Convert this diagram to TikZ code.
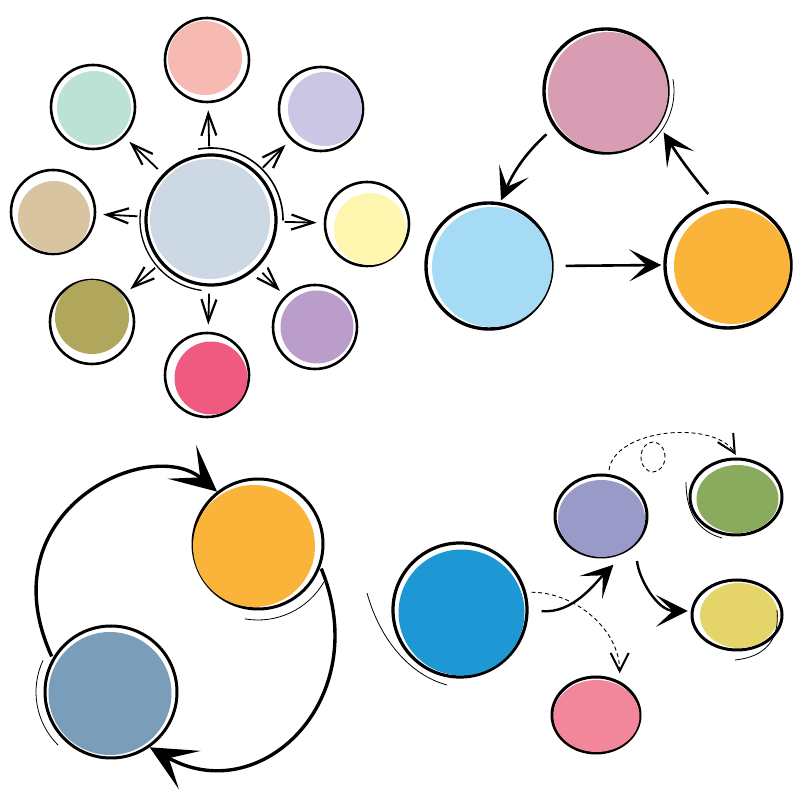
\documentclass[tikz,border=0pt]{standalone}
\usetikzlibrary{arrows.meta,calc,shapes.geometric}
\definecolor{cC}{HTML}{CCD9E5}
\definecolor{cT}{HTML}{F6BAB3}
\definecolor{cTR}{HTML}{CBC6E4}
\definecolor{cR}{HTML}{FEF5AE}
\definecolor{cBR}{HTML}{BB9DCB}
\definecolor{cBo}{HTML}{EF5B80}
\definecolor{cBL}{HTML}{B0A75C}
\definecolor{cL}{HTML}{D8C4A0}
\definecolor{cTL}{HTML}{BCE2D5}
\definecolor{cP}{HTML}{D99DB3}
\definecolor{cLB}{HTML}{A5DBF5}
\definecolor{cO}{HTML}{FBB43A}
\definecolor{cG}{HTML}{7A9DB9}
\definecolor{cB}{HTML}{1E98D4}
\definecolor{cPu}{HTML}{9A9AC9}
\definecolor{cGr}{HTML}{8AAA5E}
\definecolor{cYe}{HTML}{E4D46A}
\definecolor{cPk}{HTML}{F2879B}
\begin{document}
\begin{tikzpicture}[x=1pt,y=1pt,
  ring/.style={circle,draw=black,line width=2.6pt,fill=white,inner sep=0pt},
  ering/.style={ellipse,draw=black,line width=3pt,fill=white,inner sep=0pt},
  thinarr/.style={line width=1.8pt,shorten <=7pt,shorten >=7pt,
    -{Straight Barb[length=22pt,width=15pt,line width=2.2pt]}},
  thickarr/.style={line width=2.6pt,-{Stealth[length=32pt,width=32pt,inset=17pt]}},
  bigarr/.style={line width=3.4pt,-{Stealth[length=46pt,width=44pt,inset=24pt]}},
  dasharr/.style={line width=0.9pt,dash pattern=on 4pt off 3pt,
    -{Straight Barb[length=18pt,width=18pt,line width=2pt]}},
  sketch/.style={line width=0.8pt}
]
\fill[white] (0,0) rectangle (800,800);
\useasboundingbox (0,0) rectangle (800,800);

% ---------- star cluster ----------
\node[ring,line width=3.2pt,minimum size=130pt] (C) at (211,580) {};
\node[ring,minimum size=84pt] (T)  at (207,740) {};
\node[ring,minimum size=84pt] (TR) at (321,691) {};
\node[ring,minimum size=84pt] (R)  at (367,576) {};
\node[ring,minimum size=84pt] (BR) at (315,473) {};
\node[ring,minimum size=84pt] (Bo) at (207,425) {};
\node[ring,minimum size=84pt] (BL) at (92,478) {};
\node[ring,minimum size=84pt] (L)  at (53,588) {};
\node[ring,minimum size=84pt] (TL) at (93,693) {};
\fill[cC]  ($(C)+(-1,1)$) circle (60pt);
\fill[cT]  ($(T)+(-2,2)$) circle (37pt);
\fill[cTR] ($(TR)+(4,0)$) circle (37pt);
\fill[cR]  ($(R)+(3,-5)$) circle (36pt);
\fill[cBR] ($(BR)+(2,0)$) circle (36.5pt);
\fill[cBo] ($(Bo)+(4,-3)$) circle (36.5pt);
\fill[cBL] ($(BL)+(0,5)$) circle (37pt);
\fill[cL]  ($(L)+(1,-5)$) circle (36pt);
\fill[cTL] ($(TL)+(1,-1)$) circle (37pt);
\draw[line width=1.6pt,line cap=round] ($(C)+(100:72pt)$) arc (100:0:72pt);
\draw[line width=1.3pt,line cap=round] ($(C)+(172:71pt)$) arc (172:262:71pt);
\draw[thinarr] (C) -- (T);
\draw[thinarr] (C) -- (TR);
\draw[thinarr] (C) -- (R);
\draw[thinarr] (C) -- (BR);
\draw[thinarr] (C) -- (Bo);
\draw[thinarr] (C) -- (BL);
\draw[thinarr] (C) -- (L);
\draw[thinarr] (C) -- (TL);

% ---------- triangle cluster ----------
\node[ring,line width=3.4pt,minimum size=124pt] (P)  at (606,709) {};
\node[ring,line width=3.4pt,minimum size=126pt] (LB) at (489,534) {};
\node[ring,line width=3.4pt,minimum size=126pt] (O)  at (728,535) {};
\fill[cP]  ($(P)+(2,-1)$) circle (60pt);
\fill[cLB] ($(LB)+(3,-1)$) circle (60pt);
\fill[cO]  ($(O)+(4,-1)$) circle (58pt);
\draw[sketch] ($(P)+(10:68pt)$) arc (10:-50:68pt);
\draw[thickarr,shorten <=10pt,shorten >=2pt] (P.215) to[bend right=12] (LB.80);
\draw[thickarr,shorten <=12pt,shorten >=2pt] (LB.0) -- (O.180);
\draw[thickarr,shorten <=10pt,shorten >=8pt] (O.102) to[bend left=4] (P.-33);

% ---------- cycle cluster ----------
\node[ring,line width=3pt,minimum size=130pt] (O2) at (258,256) {};
\node[ring,line width=3pt,minimum size=132pt] (G)  at (111,108) {};
\fill[cO] ($(O2)+(-4,-2)$) circle (61pt);
\fill[cG] ($(G)+(-1,-1.5)$) circle (61.5pt);
\draw[sketch] ($(O2)+(-100:76pt)$) arc (-100:-30:76pt);
\draw[sketch] ($(G)+(155:75pt)$) arc (155:225:75pt);
\draw[bigarr,shorten <=2pt] (G.150) .. controls (-15,290) and (150,365) .. (O2.128);
\draw[bigarr,shorten <=2pt] (O2.-20) .. controls (375,100) and (260,-10) .. (G.-55);

% ---------- tree cluster ----------
\node[ring,line width=3.2pt,minimum size=134pt] (B) at (460,190) {};
\node[ering,minimum width=92pt,minimum height=82pt] (Pu) at (601,284) {};
\node[ering,minimum width=92pt,minimum height=76pt] (Gr) at (736,303) {};
\node[ering,minimum width=90pt,minimum height=70pt] (Ye) at (737,185) {};
\node[ering,minimum width=88pt,minimum height=76pt] (Pk) at (596,85) {};
\fill[cB]  ($(B)+(1.5,-2.5)$) circle (63pt);
\fill[cPu] ($(Pu)+(0.5,-2.5)$) ellipse (43.5pt and 38.5pt);
\fill[cGr] ($(Gr)+(1.5,-2)$) ellipse (41pt and 34pt);
\fill[cYe] ($(Ye)+(2,-0.5)$) ellipse (39pt and 32.5pt);
\fill[cPk] ($(Pk)+(0.5,-1)$) ellipse (43pt and 36pt);
\draw[sketch] (367,207) .. controls (380,160) and (410,125) .. (447,115);
\draw[sketch] (777,190) .. controls (780,160) and (765,143) .. (735,140);
\draw[sketch] (686,318) .. controls (686,285) and (700,268) .. (722,262);
\draw[thickarr,line width=2.4pt,shorten <=13pt,shorten >=18pt]
  (B.0) to[out=-5,in=225] (Pu.-55);
\draw[thickarr,line width=2.4pt,shorten <=16pt,shorten >=3pt]
  (Pu.-40) to[out=-85,in=180] (Ye.175);
\draw[dasharr,shorten <=5pt,shorten >=8pt]
  (B.15) to[out=0,in=90] (Pk.55);
\draw[dasharr,shorten <=4pt,shorten >=3pt]
  (Pu.80) .. controls (615,372) and (715,380) .. (Gr.88);
\draw[line width=0.9pt,dash pattern=on 4pt off 3pt] (653,343) ellipse (12pt and 15pt);
\end{tikzpicture}
\end{document}
